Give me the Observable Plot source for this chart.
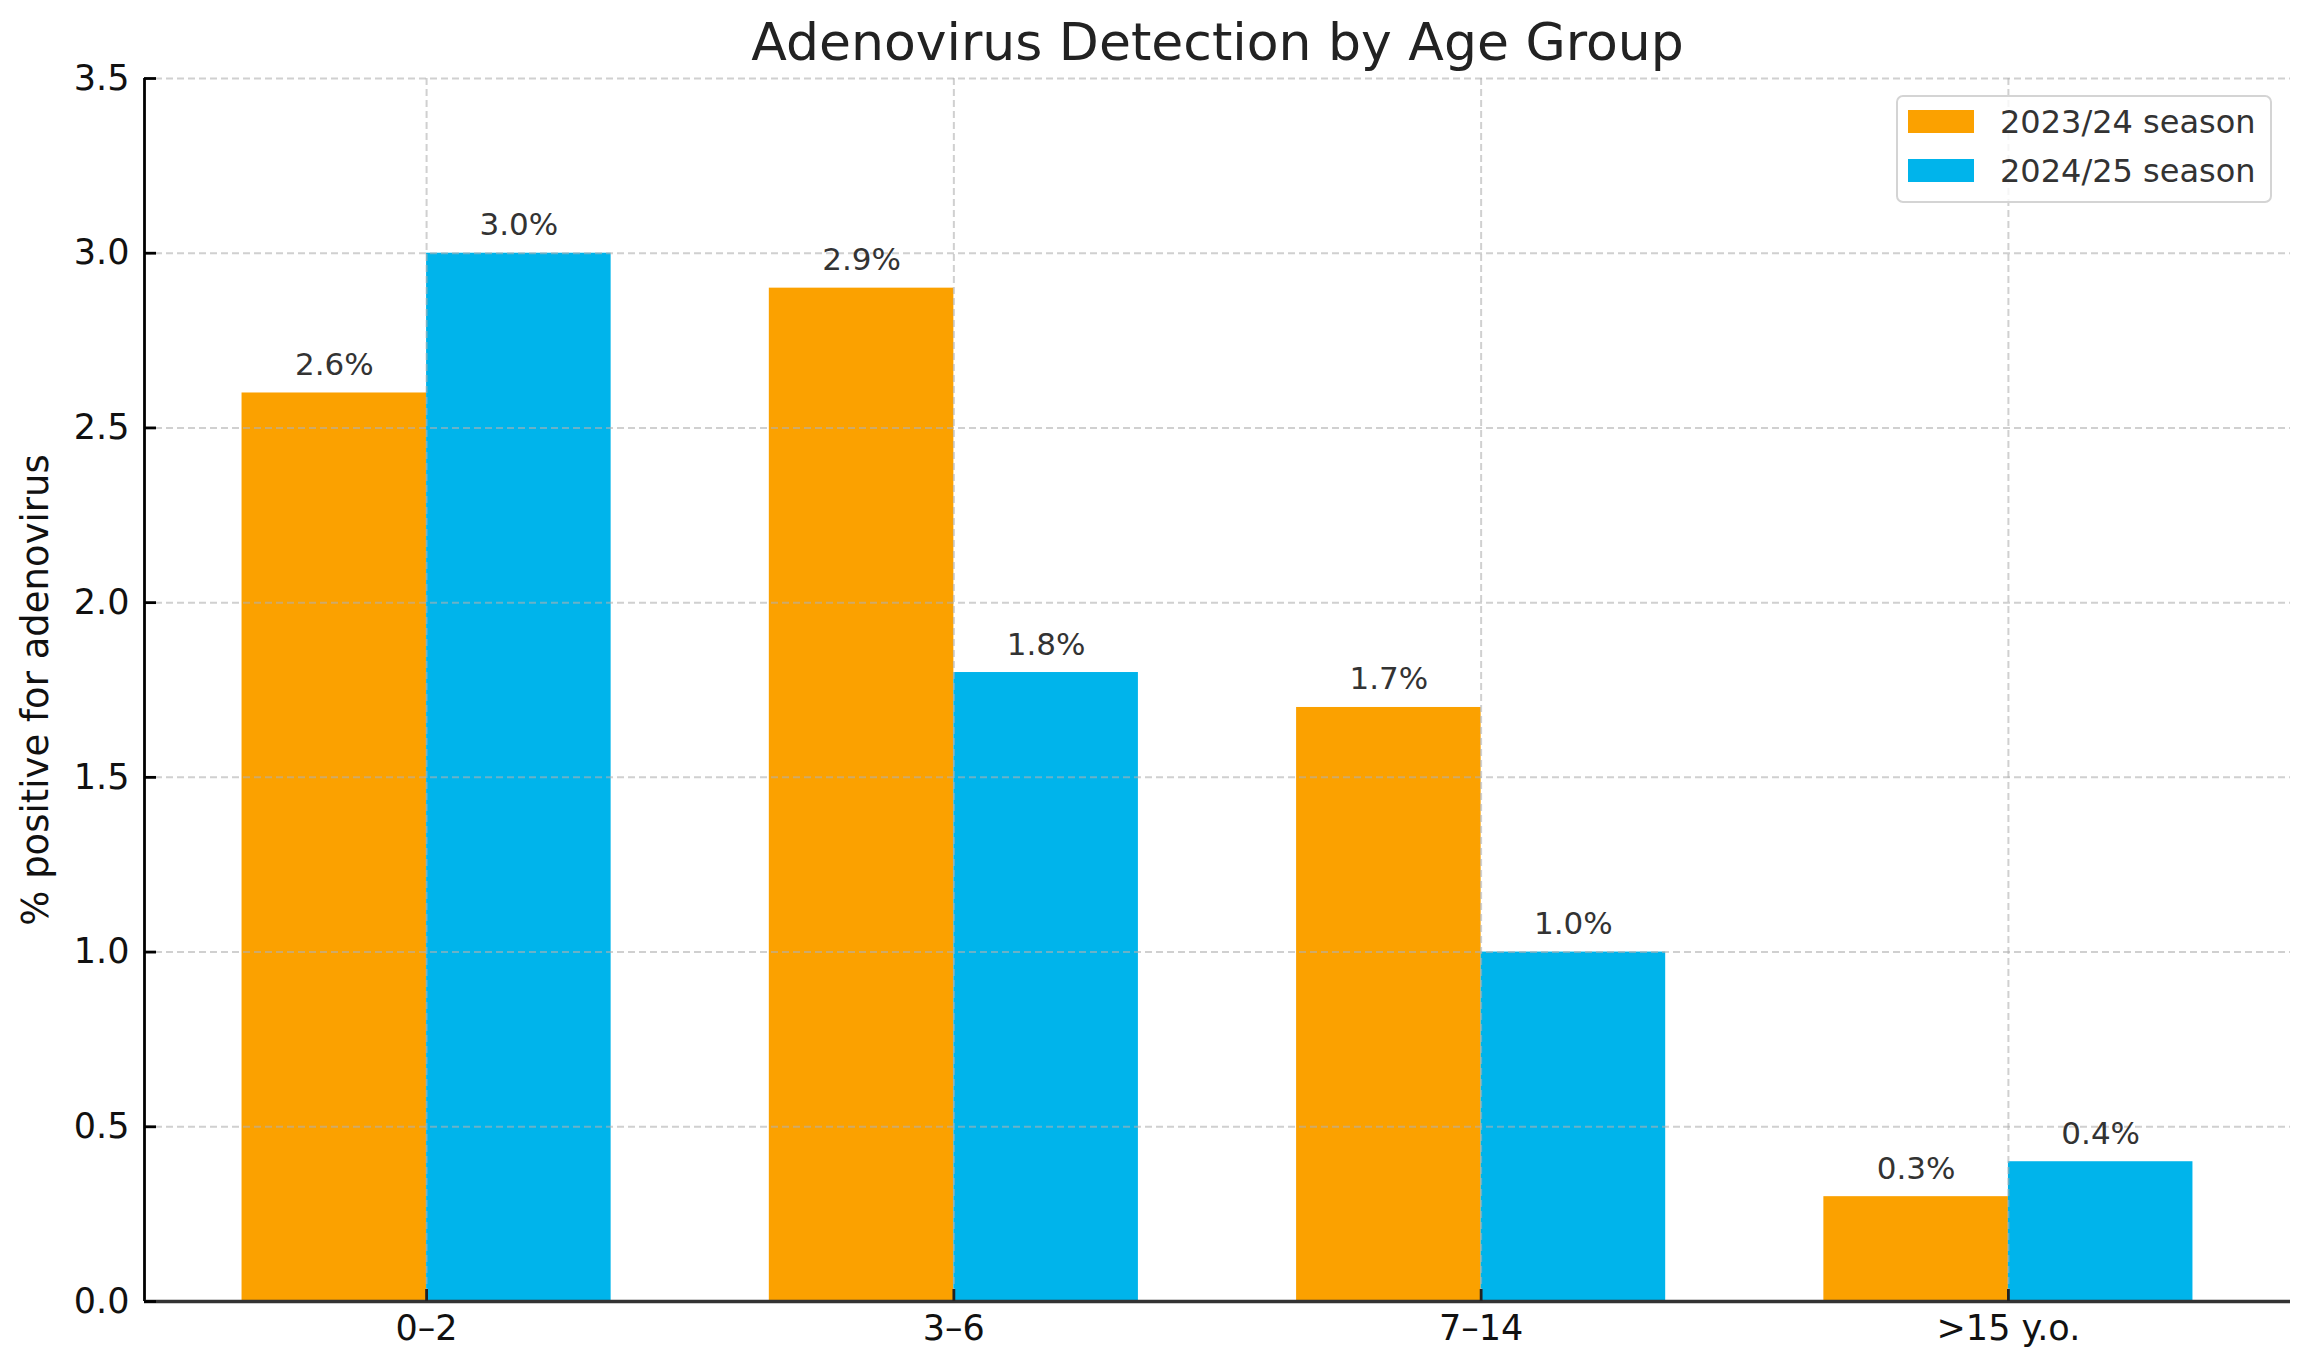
<!DOCTYPE html>
<html>
<head>
<meta charset="utf-8">
<script src="https://cdn.jsdelivr.net/npm/d3@7"></script>
<script src="https://cdn.jsdelivr.net/npm/@observablehq/plot@0.6"></script>
<style>
  html, body { margin: 0; padding: 0; background: #fff; }
  #wrap { position: relative; width: 2309px; height: 1364px; }
  #wrap svg { display: block; }
  #legend {
    position: absolute; left: 1896px; top: 95px; width: 372px; height: 104px;
    border: 2px solid #d4d4d4; border-radius: 7px; background: rgba(255,255,255,0.8);
    font-family: "DejaVu Sans", sans-serif; font-size: 32px; color: #333;
  }
  #legend .item { position: absolute; left: 10px; height: 23px; display: flex; align-items: center; white-space: nowrap; }
  #legend .sw { display: inline-block; width: 66px; height: 23px; }
  #legend .lab { margin-left: 26px; }
</style>
</head>
<body>
<div id="wrap"><div id="legend"></div></div>
<script>
// ---- data ----
const ageGroups = ["0–2", "3–6", "7–14", ">15 y.o."];
const seasons = ["2023/24 season", "2024/25 season"];
const season2023_24 = [2.6, 2.9, 1.7, 0.3];
const season2024_25 = [3.0, 1.8, 1.0, 0.4];
const seasonColors = ["#FBA100", "#00B4EB"];
const yTicks = [0, 0.5, 1.0, 1.5, 2.0, 2.5, 3.0, 3.5];
const title = "Adenovirus Detection by Age Group";
const yLabel = "% positive for adenovirus";

// ---- table ----
const barW = 0.35;
const seriesValues = [season2023_24, season2024_25];
const rows = [];
ageGroups.forEach((age, i) => {
  seasons.forEach((s, k) => {
    const x1 = i + (k - 1) * barW;
    rows.push({age, season: s, value: seriesValues[k][i], x1, x2: x1 + barW, xc: x1 + barW / 2});
  });
});
const xIdx = ageGroups.map((_, i) => i);
const span = (ageGroups.length - 1) + 2 * barW;
const xDomain = [-barW - 0.05 * span, ageGroups.length - 1 + barW + 0.05 * span];

const gridStyle = {stroke: "#b0b0b0", strokeOpacity: 0.6, strokeWidth: 2, strokeDasharray: "7,4"};

const chart = Plot.plot({
  width: 2309,
  height: 1364,
  marginLeft: 144,
  marginRight: 19,
  marginTop: 78,
  marginBottom: 63,
  style: {fontFamily: "DejaVu Sans, sans-serif", background: "#fff", overflow: "visible", color: "#111"},
  x: {type: "linear", domain: xDomain},
  y: {domain: [0, 3.5]},
  color: {domain: seasons, range: seasonColors},
  marks: [
    Plot.rect(rows, {x1: "x1", x2: "x2", y1: d => 0, y2: "value", fill: "season"}),
    Plot.gridY({ticks: yTicks, ...gridStyle}),
    Plot.gridX({ticks: xIdx, ...gridStyle}),
    Plot.text(rows, {x: "xc", y: "value", text: d => d.value.toFixed(1) + "%", dy: -18, lineAnchor: "bottom", fontSize: 31, fill: "#333"}),
    // spines
    Plot.ruleX([xDomain[0]], {stroke: "#000", strokeWidth: 2.8}),
    Plot.ruleY([0], {stroke: "#333", strokeWidth: 3.5}),
    // inward ticks
    Plot.axisY({ticks: yTicks, tickSize: 12, dx: 12, tickFormat: () => "", label: null, strokeWidth: 2.8, stroke: "#000"}),
    Plot.axisX({ticks: xIdx, tickSize: 12, dy: -12, tickFormat: () => "", label: null, strokeWidth: 2.8, stroke: "#222"}),
    // tick labels
    Plot.axisY({ticks: yTicks, tickSize: 0, tickPadding: 15, tickFormat: d3.format(".1f"), fontSize: 35, label: null, fill: "#111"}),
    Plot.axisX({ticks: xIdx, tickSize: 0, tickPadding: 14, tickFormat: i => ageGroups[i], fontSize: 35, label: null, fill: "#111"}),
    // titles
    Plot.text([title], {frameAnchor: "top", text: d => d, dy: -19, lineAnchor: "bottom", fontSize: 52, fill: "#222"}),
    Plot.text([yLabel], {frameAnchor: "left", text: d => d, rotate: -90, dx: -108, textAnchor: "middle", lineAnchor: "middle", fontSize: 37, fill: "#111"})
  ]
});
document.getElementById("wrap").prepend(chart);

// ---- legend ----
const legend = document.getElementById("legend");
seasons.forEach((s, k) => {
  const item = document.createElement("div");
  item.className = "item";
  item.style.top = (13 + k * 49) + "px";
  const sw = document.createElement("span");
  sw.className = "sw";
  sw.style.background = seasonColors[k];
  const lab = document.createElement("span");
  lab.className = "lab";
  lab.textContent = s;
  item.append(sw, lab);
  legend.append(item);
});
</script>
</body>
</html>
